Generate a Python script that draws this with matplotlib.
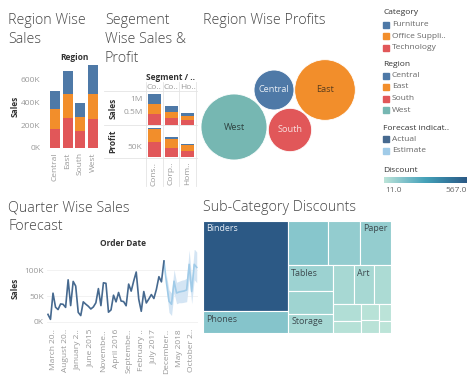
import numpy as np
import matplotlib
matplotlib.use("Agg")
import matplotlib.pyplot as plt
from matplotlib.patches import Circle, Rectangle
from matplotlib.lines import Line2D
from matplotlib.colors import LinearSegmentedColormap, Normalize

plt.rcParams['font.family'] = ['Open Sans', 'DejaVu Sans']

# ── Data ──────────────────────────────────────────────────────────
regions = ['Central', 'East', 'South', 'West']
categories = ['Furniture', 'Office Suppli..', 'Technology']
region_furniture = [163797, 208291, 117299, 252613]
region_office = [167026, 205516, 125652, 220853]
region_technology = [170416, 264974, 148772, 251992]
region_profit = [39706, 91523, 46749, 108418]

segment_short = ['Co..', 'Co..', 'Ho..']
segment_ticks = ['Cons..', 'Corp..', 'Hom..']
seg_sales_furniture = [391049, 229020, 121930]
seg_sales_office = [363953, 230676, 124418]
seg_sales_technology = [406440, 246450, 183304]
seg_profit_furniture = [6991, 7585, 3875]
seg_profit_office = [56330, 40228, 25934]
seg_profit_technology = [70798, 44167, 30495]

# monthly sales Jan 2014 .. Nov 2017 (actual)
actual_sales = [14237, 4520, 55691, 28295, 23648, 34595, 33946, 27909, 81777, 31453, 78629, 69546,
                18174, 11951, 38726, 34195, 30132, 24797, 28765, 36898, 64596, 31405, 75973, 74920,
                18542, 22979, 51716, 38750, 56988, 40344, 39262, 31115, 73410, 59688, 79412, 96999,
                43971, 20301, 58872, 36522, 44261, 52982, 45264, 63121, 87867, 77777, 118448]
# Dec 2017 .. Dec 2018 (estimate)
forecast_sales = [76000, 40000, 34000, 79000, 56000, 58000, 59000, 60000, 62000, 112000, 59000, 112000, 106000]
forecast_lo = [62000, 18000, 12000, 56000, 35000, 37000, 37000, 38000, 39000, 84000, 35000, 82000, 76000]
forecast_hi = [90000, 62000, 56000, 102000, 77000, 79000, 81000, 82000, 85000, 140000, 83000, 142000, 136000]
month_tick_pos = [2, 7, 12, 17, 22, 27, 32, 37, 42, 47, 52, 57]
month_tick_labels = ['March 20..', 'August 20..', 'January 2..', 'June 2015', 'Novembe..', 'April 2016',
                     'Septembe..', 'February ..', 'July 2017', 'December..', 'May 2018', 'October 2..']

sub_categories = ['Binders', 'Phones', 'Furnishings', 'Chairs', 'Paper', 'Tables', 'Appliances', 'Storage',
                  'Accessories', 'Art', 'Bookcases', 'Machines', 'Labels', 'Envelopes', 'Fasteners',
                  'Supplies', 'Copiers']
discounts = [567.0, 137.4, 132.4, 105.0, 102.6, 83.35, 77.6, 63.2, 60.8, 59.6, 48.1, 35.2, 25.0, 20.4,
             17.8, 14.6, 11.0]

# ── Styles ────────────────────────────────────────────────────────
BLUE, ORANGE, RED, TEAL = "#4e79a7", "#f28e2b", "#e15759", "#76b7b2"
ACTUAL, ESTIMATE = "#46698f", "#a0cbe8"
TITLE_C, DARK, GREY, LINE_C = "#444444", "#333333", "#999999", "#e4e4e4"
TITLE_FS, SMALL = 10.3, 6
cmap = LinearSegmentedColormap.from_list(
    "blueteal", ["#bce4d8", "#7fc1ca", "#45a2b9", "#347da0", "#2c5985"])

W, H = 474, 379
fig = plt.figure(figsize=(W / 100, H / 100), dpi=100)
fig.patch.set_facecolor("white")


def box(x0, y0, x1, y1):
    return fig.add_axes([x0 / W, 1 - y1 / H, (x1 - x0) / W, (y1 - y0) / H])


def txt(x, y, s, **kw):
    return fig.text(x / W, 1 - y / H, s, **kw)


def fline(x0, y0, x1, y1):
    fig.add_artist(Line2D([x0 / W, x1 / W], [1 - y0 / H, 1 - y1 / H], color=LINE_C, lw=0.6))


def title(x, y, lines):
    for i, s in enumerate(lines):
        txt(x, y + i * 18.8, s, fontsize=TITLE_FS, color=TITLE_C, va="baseline", fontweight="light")


def clean(ax):
    for sp in ax.spines.values():
        sp.set_visible(False)
    ax.tick_params(length=0, labelsize=SMALL, colors=GREY)
    ax.set_facecolor("none")


def stack(ax, x, parts, colors, width):
    bottom = np.zeros(len(x))
    for vals, c in zip(parts, colors):
        ax.bar(x, vals, bottom=bottom, color=c, width=width, linewidth=0)
        bottom += np.array(vals)


# ── Region Wise Sales ─────────────────────────────────────────────
title(8, 24.5, ["Region Wise", "Sales"])
txt(74, 60.5, "Region", fontsize=SMALL, fontweight="bold", color=DARK, ha="center", va="baseline")
ax = box(48.5, 63, 99.5, 148)
clean(ax)
xr = np.arange(len(regions))
stack(ax, xr, [region_technology, region_office, region_furniture], [RED, ORANGE, BLUE], 0.78)
ax.set_xlim(-0.5, len(regions) - 0.5)
ax.set_ylim(0, 745000)
ax.set_yticks([0, 200000, 400000, 600000], ["0K", "200K", "400K", "600K"])
ax.set_xticks(xr, regions, rotation=90)
ax.tick_params(axis="y", pad=6)
ax.tick_params(axis="x", pad=3)
txt(15, 106, "Sales", fontsize=SMALL, fontweight="bold", color=DARK, rotation=90, ha="center", va="center")

# ── Segment Wise Sales & Profit ───────────────────────────────────
title(105, 24.5, ["Segement", "Wise Sales &", "Profit"])
txt(146, 80.5, "Segment / ..", fontsize=SMALL, fontweight="bold", color=DARK, va="baseline")
xs = np.arange(3)
ax_s = box(146, 92, 196, 124.5)
ax_p = box(146, 125.5, 196, 157.5)
for a in (ax_s, ax_p):
    clean(a)
    a.set_xlim(-0.5, 2.5)
    a.tick_params(axis="y", pad=2.5)
stack(ax_s, xs, [seg_sales_technology, seg_sales_office, seg_sales_furniture], [RED, ORANGE, BLUE], 0.78)
stack(ax_p, xs, [seg_profit_technology, seg_profit_office, seg_profit_furniture], [RED, ORANGE, BLUE], 0.78)
ax_s.set_ylim(0, 1230000)
ax_s.set_yticks([500000, 1000000], ["0.5M", "1M"])
ax_s.set_xticks([])
ax_p.set_ylim(0, 145000)
ax_p.set_yticks([50000], ["50K"])
ax_p.set_xticks(xs, segment_ticks, rotation=90)
ax_p.tick_params(axis="x", pad=3)
col_px = [146 + 50 / 3 * (i + 0.5) for i in range(3)]
for cx, s in zip(col_px, segment_short):
    txt(cx, 89, s, fontsize=SMALL, color=GREY, ha="center", va="baseline")
for y in (90.5, 125, 158):
    fline(104, y, 197, y)
for x in (145.5, 162.7, 179.3, 196):
    fline(x, 82, x, 186)
txt(113, 108, "Sales", fontsize=SMALL, fontweight="bold", color=DARK, rotation=90, ha="center", va="center")
txt(113, 141, "Profit", fontsize=SMALL, fontweight="bold", color=DARK, rotation=90, ha="center", va="center")

# ── Region Wise Profits (bubbles) ─────────────────────────────────
title(203, 24.5, ["Region Wise Profits"])
bubble_xy = [(274, 90), (325, 90), (290, 130), (234, 127)]   # packing layout, px
bubble_colors = [BLUE, ORANGE, RED, TEAL]
bubble_text = ["#e8eef5", "#5a3d1e", "#f8dede", "#2e4240"]
ax_b = box(195, 45, 382, 190)
ax_b.set_xlim(195, 382)
ax_b.set_ylim(190, 45)
ax_b.axis("off")
rmax = 33
for (cx, cy), p, c, tc, name in zip(bubble_xy, region_profit, bubble_colors, bubble_text, regions):
    r = rmax * np.sqrt(p / max(region_profit))
    ax_b.add_patch(Circle((cx, cy), r, facecolor=c, edgecolor="white", lw=0.6))
    ax_b.text(cx, cy, name, fontsize=6.6, color=tc, ha="center", va="center")

# ── Legends ───────────────────────────────────────────────────────
def legend_block(y, head, names, colors):
    txt(383, y, head, fontsize=SMALL, color=DARK, va="center")
    for i, (n, c) in enumerate(zip(names, colors)):
        yy = y + 11.5 * (i + 1)
        fig.add_artist(Rectangle((383 / W, 1 - (yy + 3) / H), 6 / W, 6 / H, color=c,
                                 transform=fig.transFigure))
        txt(392, yy, n, fontsize=SMALL, color="#666666", va="center")


legend_block(13, "Category", categories, [BLUE, ORANGE, RED])
legend_block(64, "Region", regions, [BLUE, ORANGE, RED, TEAL])
legend_block(128, "Forecast indicat..", ["Actual", "Estimate"], [ACTUAL, ESTIMATE])
txt(383, 170, "Discount", fontsize=SMALL, color=DARK, va="center")
ax_c = box(383.5, 176.5, 466, 183)
ax_c.imshow(np.linspace(0, 1, 256)[None, :], aspect="auto", cmap=cmap)
ax_c.axis("off")
txt(385, 190, f"{min(discounts):.1f}", fontsize=SMALL, color="#666666", va="center")
txt(467, 190, f"{max(discounts):.1f}", fontsize=SMALL, color="#666666", va="center", ha="right")

# ── Quarter Wise Sales Forecast ───────────────────────────────────
title(8, 211, ["Quarter Wise Sales", "Forecast"])
txt(123, 246, "Order Date", fontsize=SMALL, fontweight="bold", color=DARK, ha="center", va="baseline")
ax_f = box(46.7, 250, 198, 327)
clean(ax_f)
xa = np.arange(len(actual_sales))
xf = np.arange(len(actual_sales) - 1, len(actual_sales) + len(forecast_sales))
ax_f.fill_between(xf[1:], forecast_lo, forecast_hi, color="#d4e5f4", lw=0)
ax_f.plot(xf, [actual_sales[-1]] + forecast_sales, color=ESTIMATE, lw=1.2)
ax_f.plot(xa, actual_sales, color=ACTUAL, lw=1.2)
ax_f.set_xlim(-0.5, len(actual_sales) + len(forecast_sales) - 0.5)
ax_f.set_ylim(-10400, 140000)
ax_f.set_yticks([0, 50000, 100000], ["0K", "50K", "100K"])
ax_f.yaxis.grid(True, color="#f0f0f0", lw=0.6)
ax_f.set_axisbelow(True)
ax_f.set_xticks(month_tick_pos, month_tick_labels, rotation=90)
ax_f.tick_params(axis="x", pad=1.5)
ax_f.tick_params(axis="y", pad=2)
txt(15, 288, "Sales", fontsize=SMALL, fontweight="bold", color=DARK, rotation=90, ha="center", va="center")

# ── Sub-Category Discounts (treemap) ──────────────────────────────
title(203, 211, ["Sub-Category Discounts"])
value = dict(zip(sub_categories, discounts))
tree = ('h', [('v', ['Binders', 'Phones']),
              ('v', [('h', ['Furnishings', 'Chairs', 'Paper']),
                     ('h', [('v', ['Tables', 'Appliances', 'Storage']),
                            ('v', [('h', ['Accessories', 'Art', 'Bookcases']),
                                   ('h', [('v', ['Machines', 'Labels']),
                                          ('v', ['Envelopes', 'Fasteners']),
                                          ('v', ['Supplies', 'Copiers'])])])])])])


def total(node):
    return value[node] if isinstance(node, str) else sum(total(k) for k in node[1])


def layout(node, x, y, w, h, out):
    if isinstance(node, str):
        out[node] = (x, y, w, h)
        return
    d, kids = node
    tot, pos = total(node), 0.0
    for k in kids:
        f = total(k) / tot
        if d == 'h':
            layout(k, x + pos * w, y, f * w, h, out)
        else:
            layout(k, x, y + pos * h, w, f * h, out)
        pos += f


cells = {}
layout(tree, 0, 0, 1, 1, cells)
ax_t = box(203, 221, 391, 333)
ax_t.set_xlim(0, 1)
ax_t.set_ylim(1, 0)
ax_t.axis("off")
norm = Normalize(min(discounts), max(discounts))
labelled = ['Binders', 'Phones', 'Paper', 'Tables', 'Art', 'Storage']
for name, (x, y, w, h) in cells.items():
    ax_t.add_patch(Rectangle((x, y), w, h, facecolor=cmap(norm(value[name])), edgecolor="white", lw=0.8))
    if name in labelled:
        tc = "#e6edf5" if norm(value[name]) > 0.5 else "#3d4a4f"
        ax_t.text(x + 3.5 / 188, y + 3.5 / 112, name, fontsize=6.4, color=tc, ha="left", va="top")

fig.savefig("out.png", dpi=100, facecolor="white")
